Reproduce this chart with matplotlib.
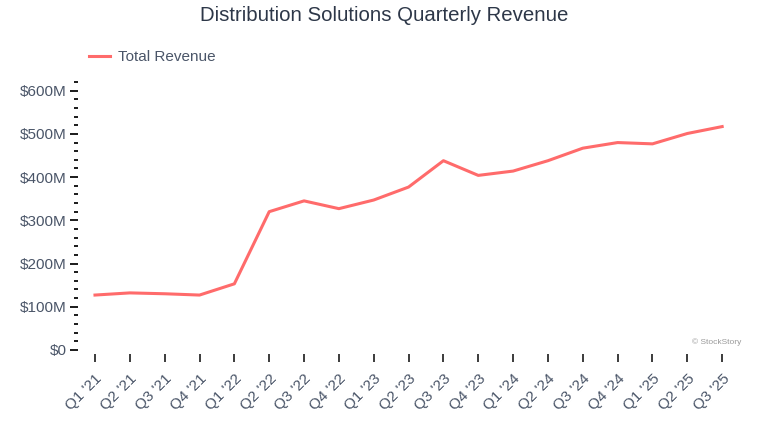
import matplotlib
matplotlib.use("Agg")
import matplotlib.pyplot as plt
from matplotlib.ticker import MultipleLocator, FuncFormatter

plt.rcParams['font.family'] = ['Liberation Sans', 'DejaVu Sans']

quarters = ["Q1 '21", "Q2 '21", "Q3 '21", "Q4 '21",
            "Q1 '22", "Q2 '22", "Q3 '22", "Q4 '22",
            "Q1 '23", "Q2 '23", "Q3 '23", "Q4 '23",
            "Q1 '24", "Q2 '24", "Q3 '24", "Q4 '24",
            "Q1 '25", "Q2 '25", "Q3 '25"]
revenue = [127, 132, 130, 127,
           153, 320, 345, 327,
           347, 377, 438, 404,
           414, 438, 467, 480,
           477, 501, 517]

text_col = '#4a5568'
line_col = '#ff6b6b'

fig = plt.figure(figsize=(7.68, 4.32), dpi=100)
ax = fig.add_axes([0.101, 0.19, 0.862, 0.62])

# spines off; moving the bottom one resets ticks, so do it first
for s in ax.spines.values():
    s.set_visible(False)
ax.spines['bottom'].set_position(('outward', 3))

x = list(range(len(quarters)))
ax.plot(x, revenue, color=line_col, linewidth=2.2, label='Total Revenue')

ax.set_xlim(-0.5, len(quarters) - 0.5)
ax.set_ylim(0, 620)

ax.yaxis.set_major_locator(MultipleLocator(100))
ax.yaxis.set_minor_locator(MultipleLocator(20))
ax.yaxis.set_major_formatter(FuncFormatter(lambda v, p: '$0' if v == 0 else f'${int(v)}M'))

ax.set_xticks(x)
ax.set_xticklabels(quarters, rotation=45, ha='right', rotation_mode='anchor')

ax.tick_params(axis='y', which='major', length=5.5, width=1.4, color='#1a1a1a',
               labelsize=11, labelcolor=text_col, pad=2.5)
ax.tick_params(axis='y', which='minor', length=3, width=1.4, color='#1a1a1a')
ax.tick_params(axis='x', length=5.5, width=1.2, color='#1a1a1a',
               labelsize=11, labelcolor=text_col, pad=7)

leg = ax.legend(loc='upper left', bbox_to_anchor=(-0.004, 1.17), frameon=False,
                fontsize=11, handlelength=1.4, handletextpad=0.5)
for t in leg.get_texts():
    t.set_color(text_col)

fig.suptitle('Distribution Solutions Quarterly Revenue', x=0.5, y=0.985,
             fontsize=14.7, color='#2d3748')

fig.text(0.965, 0.2, '© StockStory', ha='right', va='bottom', fontsize=6, color='#999999')

fig.savefig('out.png', dpi=100)
